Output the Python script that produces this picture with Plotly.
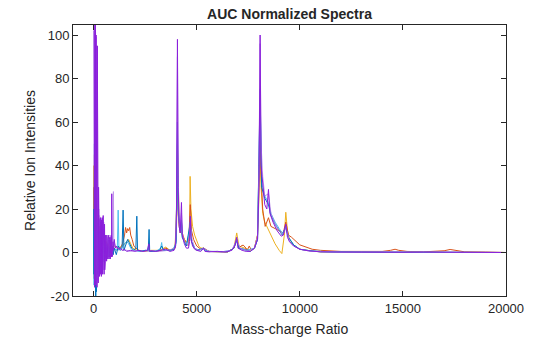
import plotly.graph_objects as go

# ---------------- data ----------------
purple_mz = [0, 15, 30, 45, 60, 75, 90, 105, 120, 135,
             150, 165, 180, 195, 210, 225, 240, 255, 270, 285,
             300, 315, 330, 345, 360, 375, 390, 405, 420, 435,
             450, 465, 480, 495, 510, 525, 540, 555, 570, 585,
             600, 615, 630, 645, 660, 675, 690, 705, 720, 735,
             750, 765, 780, 795, 810, 825, 840, 855, 870, 880,
             895, 910, 925, 940, 960, 1000, 1050, 1100, 1200, 1300,
             1400, 1500, 1600, 1800, 2000, 2200, 2400, 2600, 2680, 2720,
             2800, 3000, 3300, 3500, 3700, 3900, 3980, 4020, 4065, 4100,
             4150, 4200, 4260, 4300, 4400, 4500, 4600, 4650, 4690, 4720,
             4800, 4900, 5000, 5200, 5330, 5400, 5600, 6000, 6400, 6700,
             6850, 6940, 7000, 7200, 7400, 7600, 7800, 7950, 8020, 8075,
             8120, 8200, 8300, 8400, 8480, 8550, 8700, 8900, 9100, 9200,
             9320, 9400, 9500, 9700, 10000, 10400, 11000, 12000, 13000, 14000,
             15000, 16000, 17000, 18000, 19000, 20000]
purple_int = [104, -14, 106, -16, 103, -12, 105, -15, 100, -13,
              98, -16, 95, -12, 92, -14, 30, -10, 16, -11,
              15, -9, 16, -10, 14, -11, 15, -9, 16, -10,
              14, 17, -9, 15, -10, 13, -8, 9, -4, 8,
              -3, 7, -4, 8, -3, 7, -3, 6, -2, 8,
              -3, 6, -2, 7, -3, 6, -2, 8, -2, 27,
              -2, 6, -1, 5, 1, 6, 2, 3, 1.5, 2,
              1, 1.5, 0.5, 1, 0.5, 1, 0.5, 1, 4, 0.5,
              0.8, 0.5, 1, 1.5, 0.5, 1, 3, 20, 98, 30,
              12, 9, 23, 8, 4, 2, 2, 5, 16.7, 6,
              3, 1.5, 1, 0.5, 2, 0.5, 0.3, 0.5, 0.2, 1,
              3, 7, 2, 1, 0.5, 0.5, 2, 6, 30, 100,
              40, 30, 22, 20, 29, 18, 14, 10, 7.5, 8,
              13, 7, 5, 3, 1.5, 0.8, 0.3, 0.2, 0.1, 0.3,
              0.1, 0.2, 0.1, 0.3, 0.1, 0]

lilac_mz = [0, 20, 35, 50, 65, 80, 95, 110, 125, 140,
            155, 170, 185, 200, 215, 230, 250, 270, 290, 310,
            330, 350, 370, 390, 410, 430, 450, 470, 490, 510,
            530, 560, 590, 620, 650, 680, 710, 740, 770, 800,
            830, 860, 900, 940, 960, 980, 1020, 1100, 1200, 1400,
            1600, 1800, 2000, 2400, 2800, 3200, 3600, 3950, 4020, 4065,
            4100, 4150, 4200, 4260, 4300, 4400, 4600, 4690, 4750, 4900,
            5100, 5330, 5600, 6200, 6700, 6940, 7100, 7500, 7800, 7950,
            8020, 8075, 8120, 8200, 8300, 8480, 8600, 8800, 9000, 9200,
            9320, 9500, 9700, 10000, 10500, 12000, 14000, 17000, 20000]
lilac_int = [102, -12, 101, -14, 100, -11, 101, -13, 99, -15,
             97, -12, 95, -13, 92, -10, 20, -9, 17, -10,
             16, -9, 15, -8, 16, -9, 15, -8, 14, -7,
             13, -4, 8, -3, 7, -3, 6, -2, 7, -2,
             6, -2, 5, 8, 28, 3, 4, 2, 2, 1,
             1, 0.5, 1, 0.5, 0.8, 0.5, 1, 2, 15, 90,
             35, 15, 10, 18, 9, 5, 3, 14, 7, 2,
             1, 2, 0.5, 0.3, 1, 6, 2, 0.8, 2, 8,
             40, 96, 50, 35, 26, 27, 18, 13, 10, 8,
             12, 5, 3, 1.5, 0.6, 0.2, 0.3, 0.2, 0]

blue_mz = [0, 20, 40, 60, 80, 100, 120, 140, 160, 180,
           200, 240, 280, 320, 360, 400, 440, 480, 520, 560,
           600, 650, 700, 750, 800, 850, 900, 950, 1000, 1100,
           1200, 1300, 1380, 1430, 1470, 1550, 1650, 1750, 1850, 1950,
           2050, 2095, 2130, 2300, 2500, 2650, 2690, 2720, 3000, 3200,
           3300, 3400, 3600, 3900, 4000, 4065, 4100, 4200, 4260, 4300,
           4500, 4690, 4750, 4900, 5000, 5330, 5500, 6000, 6500, 6800,
           6940, 7050, 7300, 7600, 7800, 7950, 8075, 8150, 8300, 8480,
           8600, 8800, 9000, 9150, 9320, 9450, 9700, 10000, 10500, 11000,
           13000, 15000, 17000, 20000]
blue_int = [20, -10, 50, -15, 40, -20, 25, -18, 15, -10,
            12, -8, 10, -6, 8, -5, 6, -4, 5, -3,
            4, -3, 3, -2, 2, -2, 3, -1, 2, -1,
            3, 1, 2, 19.5, 1, 3, 6, 4, 2, 1,
            2, 16.7, 1, 0.5, 1, 1, 10.6, 0.5, 0.5, 1,
            3, 1, 1, 1.5, 5, 60, 20, 10, 15, 7,
            3, 14, 5, 2, 1, 2, 0.5, 0.5, 0.3, 2,
            6, 2, 1.5, 0.5, 2, 6, 75, 30, 25, 22,
            17, 13, 10, 8, 12, 7, 3.5, 1.5, 0.8, 0.3,
            0.2, 0.2, 0.2, 0]

sky_mz = [0, 20, 40, 60, 80, 100, 120, 140, 160, 180,
          200, 250, 300, 350, 400, 450, 500, 550, 600, 700,
          800, 900, 1000, 1100, 1150, 1190, 1230, 1300, 1400, 1500,
          1600, 1700, 1800, 1900, 2000, 2200, 2500, 2800, 3100, 3250,
          3300, 3350, 3500, 3800, 4000, 4065, 4100, 4200, 4260, 4300,
          4500, 4690, 4750, 4900, 5100, 5330, 5600, 6200, 6700, 6940,
          7050, 7400, 7800, 7950, 8075, 8150, 8300, 8480, 8600, 8800,
          9000, 9150, 9320, 9450, 9700, 10000, 10500, 11500, 14000, 20000]
sky_int = [10, -15, 30, -20, 20, -22, 15, -12, 10, -8,
           8, -6, 6, -5, 5, -4, 4, -3, 3, -2,
           2, -1, 2, 1, 2, 19.5, 1, 2, 3, 4,
           5, 4, 2, 1, 1, 0.5, 1, 0.5, 1, 2,
           4.6, 1, 1, 1, 4, 50, 18, 10, 13, 7,
           3, 12, 5, 2, 1, 1.5, 0.5, 0.3, 1, 5,
           2, 1, 2, 6, 70, 32, 26, 23, 18, 14,
           11, 9, 11, 7, 3.5, 1.5, 0.8, 0.3, 0.2, 0]

orange_mz = [0, 20, 40, 60, 80, 100, 120, 140, 160, 180,
             200, 240, 280, 320, 360, 400, 440, 480, 520, 560,
             600, 650, 700, 750, 800, 850, 900, 1000, 1100, 1200,
             1300, 1400, 1500, 1550, 1600, 1650, 1700, 1750, 1800, 1870,
             1950, 2050, 2200, 2400, 2700, 3000, 3300, 3500, 3700, 3950,
             4020, 4065, 4100, 4150, 4200, 4260, 4300, 4400, 4500, 4600,
             4690, 4750, 4850, 5000, 5200, 5330, 5600, 6000, 6500, 6800,
             6940, 7050, 7150, 7250, 7350, 7450, 7550, 7650, 7800, 7950,
             8020, 8075, 8120, 8200, 8320, 8480, 8600, 8800, 9000, 9200,
             9320, 9450, 9600, 9800, 10000, 10300, 10600, 11000, 12000, 13000,
             14000, 14400, 14620, 14800, 15200, 16000, 17000, 17290, 17600, 18000,
             19000, 20000]
orange_int = [30, -12, 45, -10, 35, -15, 25, -14, 20, -10,
              15, -8, 12, -6, 10, -5, 8, -4, 6, -3,
              5, -3, 4, -2, 3, -1, 3, 2, 1, 2,
              2, 4, 8, 11.5, 9, 11, 10, 11.5, 8, 6,
              3, 2, 1, 0.5, 1, 0.5, 1, 2, 1, 2,
              12, 35, 18, 12, 9, 14, 9, 6, 4, 3,
              22, 10, 6, 3, 1.5, 2, 0.5, 0.3, 0.3, 2,
              6, 2, 3, 3.4, 2.5, 1, 3, 1, 2, 8,
              35, 57, 36, 20, 12, 16, 12, 11, 10, 9,
              14, 8, 7, 5, 3.5, 2.5, 1.5, 1, 0.5, 0.5,
              0.5, 1, 1.5, 1, 0.5, 0.3, 0.8, 1.4, 0.8, 0.3,
              0.2, 0]

gold_mz = [0, 20, 40, 60, 80, 100, 120, 140, 160, 180,
           200, 240, 280, 320, 360, 400, 440, 480, 520, 560,
           600, 650, 700, 750, 800, 900, 1000, 1200, 1400, 1600,
           1700, 1800, 1900, 2100, 2400, 2800, 3200, 3500, 3700, 3950,
           4020, 4065, 4100, 4150, 4200, 4300, 4400, 4500, 4600, 4650,
           4680, 4720, 4800, 4900, 5000, 5100, 5200, 5330, 5600, 6000,
           6500, 6800, 6940, 7050, 7300, 7600, 7800, 7950, 8020, 8075,
           8120, 8200, 8300, 8400, 8500, 8600, 8800, 9000, 9130, 9250,
           9320, 9400, 9500, 9700, 10000, 10500, 11000, 13000, 16000, 20000]
gold_int = [40, -10, 25, -12, 30, -15, 20, -10, 15, -8,
            12, -7, 10, -6, 8, -5, 7, -4, 6, -3,
            5, -3, 4, -2, 3, 2, 3, 2, 3, 5,
            6, 4, 2, 1, 0.5, 1, 1, 2.5, 1, 2,
            20, 49, 25, 14, 10, 8, 6, 5, 5, 8,
            35, 20, 12, 8, 5, 3, 2, 2, 0.5, 0.3,
            0.3, 2, 9, 3, 2, 1, 2, 8, 25, 45,
            30, 18, 14, 12, 10, 8, 4, 1, -0.5, 8,
            18.5, 10, 6, 3.5, 1.5, 0.8, 0.3, 0.2, 0.2, 0]

x_ticks = [0, 5000, 10000, 15000, 20000]
x_ticklabels = ["0", "5000", "10000", "15000", "20000"]
y_ticks = [-20, 0, 20, 40, 60, 80, 100]
y_ticklabels = ["-20", "0", "20", "40", "60", "80", "100"]

# ---------------- figure ----------------
series = [
    (gold_mz, gold_int, "#EDB120", 1.0),
    (orange_mz, orange_int, "#D95319", 1.0),
    (sky_mz, sky_int, "#4DBEEE", 1.0),
    (blue_mz, blue_int, "#0072BD", 1.0),
    (lilac_mz, lilac_int, "#B37EE8", 0.8),
    (purple_mz, purple_int, "#8A1FDB", 1.0),
]

fig = go.Figure()
for xs, ys, col, op in series:
    fig.add_trace(go.Scatter(x=xs, y=ys, mode="lines",
                             line=dict(color=col, width=1), opacity=op,
                             hoverinfo="skip"))

axis_common = dict(showline=True, linecolor="#262626", linewidth=1,
                   mirror="ticks", ticks="inside", ticklen=5,
                   tickcolor="#262626", showgrid=False, zeroline=False,
                   automargin=False,
                   tickfont=dict(size=13, color="#262626"))

fig.update_layout(
    width=560, height=337,
    margin=dict(l=73, r=54, t=25, b=41),
    plot_bgcolor="white", paper_bgcolor="white",
    showlegend=False,
    font=dict(family="Liberation Sans, Arial, sans-serif", size=13, color="#262626"),
    title=dict(text="<b>AUC Normalized Spectra</b>", x=0.517, xanchor="center",
               xref="container", y=1 - 14 / 337, yref="container", yanchor="middle",
               font=dict(size=14, color="#262626")),
    xaxis=dict(range=[-1000, 20000], tickvals=x_ticks, ticktext=x_ticklabels,
               title=dict(text="Mass-charge Ratio", font=dict(size=14), standoff=9),
               **axis_common),
    yaxis=dict(range=[-20, 104.6], tickvals=y_ticks, ticktext=y_ticklabels,
               title=dict(text="Relative Ion Intensities", font=dict(size=14), standoff=8),
               **axis_common),
)

fig.write_html("out.html")
